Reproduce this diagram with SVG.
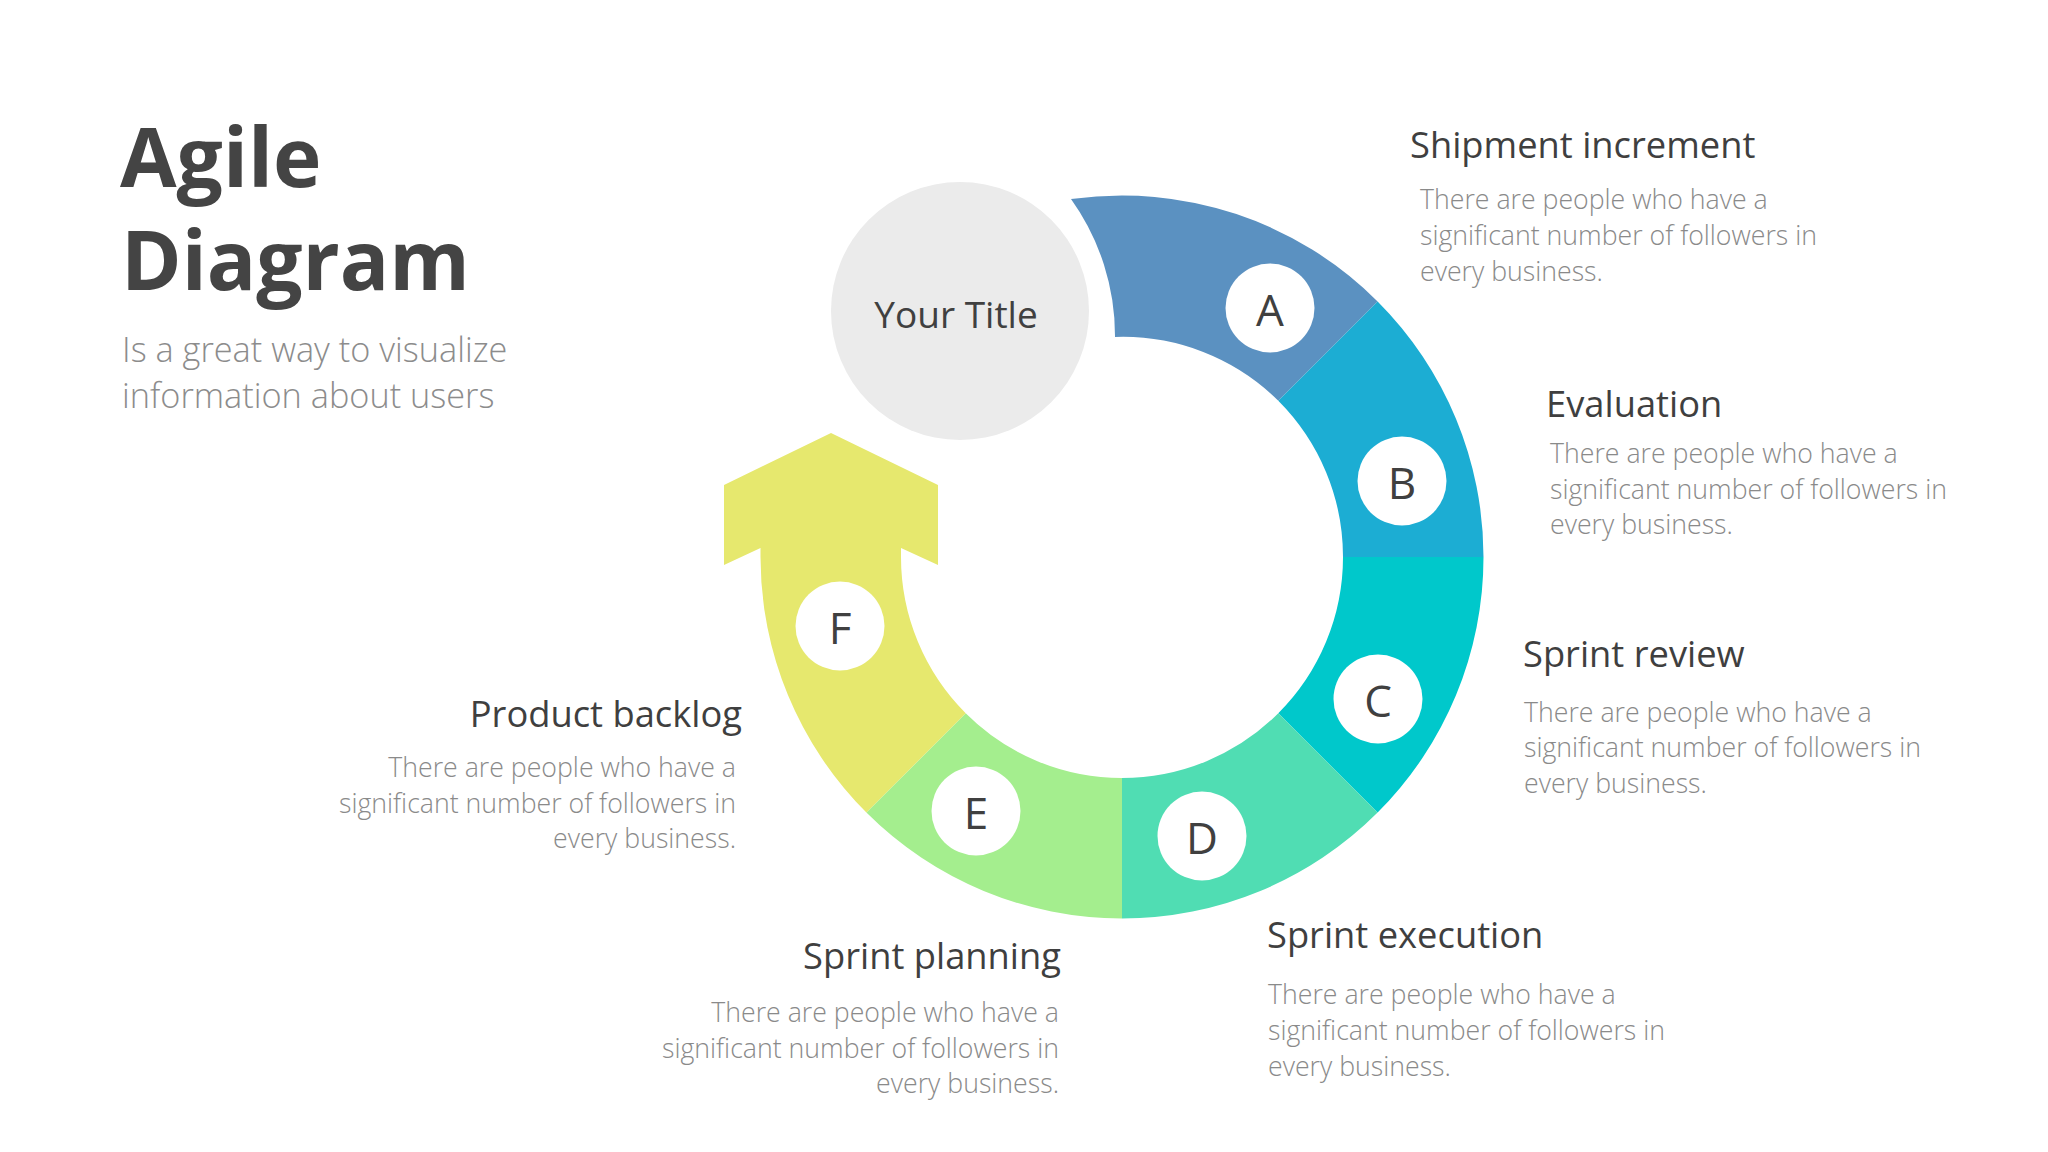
<svg xmlns="http://www.w3.org/2000/svg" width="2048" height="1152" viewBox="0 0 2048 1152">
<style>
  .ttl{font-family:"Open Sans","Noto Sans","DejaVu Sans",sans-serif;font-weight:700;font-size:82px;fill:#444444}
  .sub{font-family:"Open Sans","Noto Sans","DejaVu Sans",sans-serif;font-weight:300;font-size:34.3px;fill:#8c8c8c}
  .hd{font-family:"Open Sans","Noto Sans","DejaVu Sans",sans-serif;font-weight:400;font-size:36.3px;fill:#3f3f3f}
  .bd{font-family:"Open Sans","Noto Sans","DejaVu Sans",sans-serif;font-weight:300;font-size:26.7px;fill:#8a8a8a}
  .let{font-family:"Open Sans","Noto Sans","DejaVu Sans",sans-serif;font-weight:400;font-size:44px;fill:#404040;text-anchor:middle}
  .badge{fill:#ffffff}
  .r{text-anchor:end}
</style>
<rect width="2048" height="1152" fill="#ffffff"/>

<g id="heading">
  <text class="ttl" x="120" y="187">Agile</text>
  <text class="ttl" x="121" y="290">Diagram</text>
  <text class="sub" x="122" y="362">Is a great way to visualize</text>
  <text class="sub" x="122" y="408">information about users</text>
</g>

<g id="segment-A">
  <path d="M1071,199 A361.5,361.5 0 0 1 1377.6,301.4 L1278.3,400.7 A221,221 0 0 0 1115,337 A235,235 0 0 0 1071,199 Z" fill="#5b91c1"/>
  <circle class="badge" cx="1270" cy="308" r="44.5"/>
  <text class="let" x="1270" y="326">A</text>
</g>
<g id="segment-B">
  <path d="M1377.6,301.4 A361.5,361.5 0 0 1 1483.5,557 L1343,557 A221,221 0 0 0 1278.3,400.7 Z" fill="#1cadd3"/>
  <circle class="badge" cx="1402" cy="481" r="44.5"/>
  <text class="let" x="1402" y="499">B</text>
</g>
<g id="segment-C">
  <path d="M1483.5,557 A361.5,361.5 0 0 1 1377.6,812.6 L1278.3,713.3 A221,221 0 0 0 1343,557 Z" fill="#00c8cb"/>
  <circle class="badge" cx="1378" cy="699" r="44.5"/>
  <text class="let" x="1378" y="717">C</text>
</g>
<g id="segment-D">
  <path d="M1377.6,812.6 A361.5,361.5 0 0 1 1122,918.5 L1122,778 A221,221 0 0 0 1278.3,713.3 Z" fill="#50ddb3"/>
  <circle class="badge" cx="1202" cy="836" r="44.5"/>
  <text class="let" x="1202" y="854">D</text>
</g>
<g id="segment-E">
  <path d="M1122,918.5 A361.5,361.5 0 0 1 866.4,812.6 L965.7,713.3 A221,221 0 0 0 1122,778 Z" fill="#a4ee8e"/>
  <circle class="badge" cx="976" cy="811" r="44.5"/>
  <text class="let" x="976" y="829">E</text>
</g>
<g id="segment-F">
  <path d="M866.4,812.6 A361.5,361.5 0 0 1 760.5,557 L760.5,548 L724,565 L724,485 L831,433 L938,485 L938,565 L901,548 L901,557 A221,221 0 0 0 965.7,713.3 Z" fill="#e6e86e"/>
  <circle class="badge" cx="840" cy="626" r="44.5"/>
  <text class="let" x="840" y="644">F</text>
</g>

<g id="your-title">
  <circle cx="960" cy="311" r="129" fill="#ebebeb"/>
  <text x="956" y="328" text-anchor="middle" font-family="Open Sans, Noto Sans, DejaVu Sans, sans-serif" font-size="37" fill="#404040">Your Title</text>
</g>

<g id="label-A">
  <text class="hd" x="1410" y="158">Shipment increment</text>
  <text class="bd" x="1420" y="209">There are people who have a</text>
  <text class="bd" x="1420" y="245">significant number of followers in</text>
  <text class="bd" x="1420" y="281">every business.</text>
</g>
<g id="label-B">
  <text class="hd" x="1546" y="417">Evaluation</text>
  <text class="bd" x="1550" y="463">There are people who have a</text>
  <text class="bd" x="1550" y="499">significant number of followers in</text>
  <text class="bd" x="1550" y="534">every business.</text>
</g>
<g id="label-C">
  <text class="hd" x="1523" y="667">Sprint review</text>
  <text class="bd" x="1524" y="722">There are people who have a</text>
  <text class="bd" x="1524" y="757">significant number of followers in</text>
  <text class="bd" x="1524" y="793">every business.</text>
</g>
<g id="label-D">
  <text class="hd" x="1267" y="948">Sprint execution</text>
  <text class="bd" x="1268" y="1004">There are people who have a</text>
  <text class="bd" x="1268" y="1040">significant number of followers in</text>
  <text class="bd" x="1268" y="1076">every business.</text>
</g>
<g id="label-E">
  <text class="hd r" x="1061" y="969">Sprint planning</text>
  <text class="bd r" x="1059" y="1022">There are people who have a</text>
  <text class="bd r" x="1059" y="1058">significant number of followers in</text>
  <text class="bd r" x="1059" y="1093">every business.</text>
</g>
<g id="label-F">
  <text class="hd r" x="742" y="727">Product backlog</text>
  <text class="bd r" x="736" y="777">There are people who have a</text>
  <text class="bd r" x="736" y="813">significant number of followers in</text>
  <text class="bd r" x="736" y="848">every business.</text>
</g>

<g id="connectors"/>
</svg>
